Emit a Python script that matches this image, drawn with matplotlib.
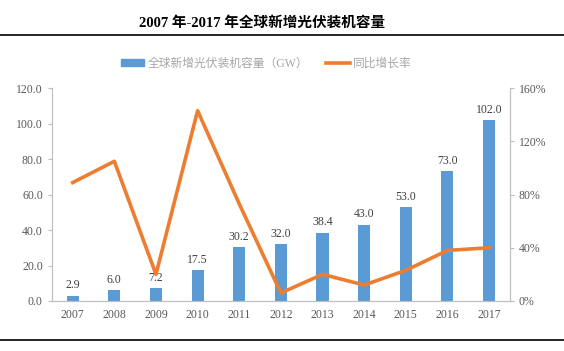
import matplotlib.pyplot as plt
from matplotlib.lines import Line2D
from matplotlib.patches import Patch

years = ['2007', '2008', '2009', '2010', '2011', '2012', '2013', '2014', '2015', '2016', '2017']
capacity = [2.9, 6.0, 7.2, 17.5, 30.2, 32.0, 38.4, 43.0, 53.0, 73.0, 102.0]
growth = [89, 105, 20, 143, 73, 6, 20, 12, 23, 38, 40]

bar_color = '#5B9BD5'
line_color = '#ED7D31'
text_color = '#595959'
spine_color = '#BFBFBF'
serif = ['Liberation Serif', 'Noto Sans CJK SC']

plt.rcParams['font.family'] = serif

fig = plt.figure(figsize=(5.64, 3.51), dpi=100)
ax = fig.add_axes([0.092, 0.1425, 0.812, 0.6065])
ax2 = ax.twinx()

x = range(len(years))
ax.bar(x, capacity, width=0.29, color=bar_color, zorder=2)
for i, v in enumerate(capacity):
    ax.text(i, v + 2.5, '%.1f' % v, ha='center', va='bottom', fontsize=8.5, color='#404040')

ax2.plot(x, growth, color=line_color, linewidth=2.6, zorder=3)

ax.set_xlim(-0.5, len(years) - 0.5)
ax.set_ylim(0, 120)
ax.set_yticks(range(0, 121, 20))
ax.set_yticklabels(['%.1f' % t for t in range(0, 121, 20)])
ax.set_xticks(list(x))
ax.set_xticklabels(years)
ax2.set_ylim(0, 160)
ax2.set_yticks(range(0, 161, 40))
ax2.set_yticklabels(['%d%%' % t for t in range(0, 161, 40)])

for a in (ax, ax2):
    for s in a.spines.values():
        s.set_color(spine_color)
        s.set_linewidth(0.8)
    a.spines['top'].set_visible(False)
    a.tick_params(colors=text_color, labelsize=8.5, length=3, width=0.8)
    a.tick_params(axis='y', colors=spine_color, labelcolor=text_color)
ax.tick_params(axis='x', length=0, pad=6)
ax2.set_zorder(ax.get_zorder() + 1)
ax2.patch.set_visible(False)

fig.text(0.465, 0.935, '2007 年-2017 年全球新增光伏装机容量', ha='center', va='center',
         fontsize=10.5, fontweight='bold', color='black')
fig.add_artist(Line2D([0, 1], [0.9, 0.9], color='black', linewidth=1.2))
fig.add_artist(Line2D([0, 1], [0.031, 0.031], color='black', linewidth=1.2))

handles = [Patch(color=bar_color), Line2D([0], [0], color=line_color, linewidth=2.6)]
fig.legend(handles, ['全球新增光伏装机容量（GW）', '同比增长率'], loc='center',
           bbox_to_anchor=(0.472, 0.818), ncol=2, frameon=False, fontsize=8.5,
           labelcolor='#A6A6A6', handlelength=2.0, handleheight=0.5,
           handletextpad=0.3, columnspacing=1.5)

fig.savefig('out.png', dpi=100)
